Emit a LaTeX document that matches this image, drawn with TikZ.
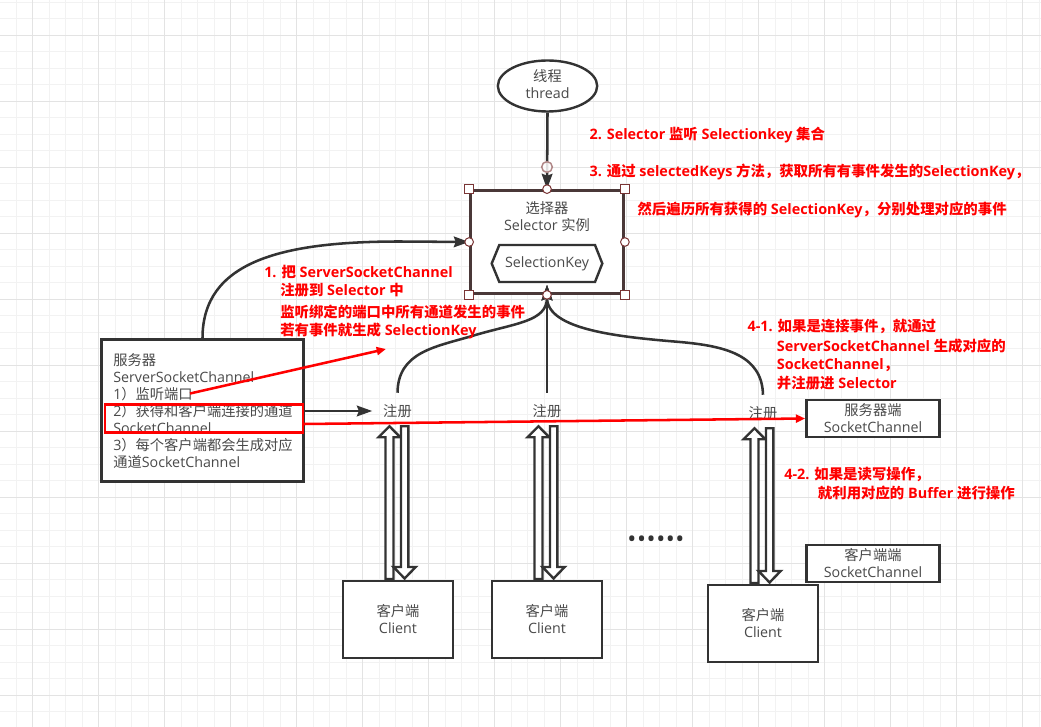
\documentclass[tikz,border=0pt]{standalone}
\usepackage{fontspec}
\setmainfont{Open Sans}
\newfontfamily\cjk{Noto Sans CJK SC}
\usetikzlibrary{arrows.meta,calc,shapes.geometric,shapes.misc}
\newcommand\Z[1]{{\cjk #1}}
\definecolor{ink}{HTML}{333333}
\definecolor{txt}{HTML}{4A4A4A}
\definecolor{redtxt}{HTML}{FF0000}
\definecolor{handle}{HTML}{7A3535}
\definecolor{selbox}{HTML}{4A3838}
\tikzset{
  x=0.75pt,y=-0.75pt,
  lbl/.style={font=\fontsize{10.7pt}{12.75pt}\selectfont,text=txt,inner sep=0pt,align=center},
  redlbl/.style={font=\fontsize{10.8pt}{14pt}\selectfont\bfseries,text=redtxt,inner sep=0pt,anchor=west},
  boxed/.style={draw=ink,line width=1.8pt,fill=white,inner sep=0pt,align=center,font=\fontsize{10.7pt}{12.75pt}\selectfont,text=txt},
  regnode/.style={lbl,minimum width=37.5pt,minimum height=27pt},
  conn/.style={draw=ink,line width=1.9pt,-{Stealth[length=11.5pt,width=8pt,inset=1.5pt]}},
  redarrow/.style={draw=redtxt,line width=1.9pt,-{Triangle[length=7pt,width=6pt]}},
  hollow/.style={draw=ink,line width=1.8pt,fill=white,line join=miter},
  sqh/.style={draw=handle,line width=0.75pt,fill=white,minimum size=6.5pt,inner sep=0pt,rectangle},
  cih/.style={draw=handle,line width=0.75pt,fill=white,minimum size=6.5pt,inner sep=0pt,circle},
}
% hollow up and down arrows between a client box (#1) and its register label (#2)
\newcommand\updownpair[2]{%
  \coordinate (bb) at (#1.north);
  \coordinate (tt) at (bb |- #2.south);
  \draw[hollow] ($(bb)+(-12.5,-1)$) -- ($(bb)+(-4.5,-1)$) -- ($(tt)+(-4.5,8)$) -- ($(tt)+(2.3,8)$)
     -- ($(tt)+(-8.5,-3)$) -- ($(tt)+(-19.5,8)$) -- ($(tt)+(-12.5,8)$) -- cycle;
  \draw[hollow] ($(tt)+(3,-3)$) -- ($(tt)+(10.3,-3)$) -- ($(bb)+(10.3,-13)$) -- ($(bb)+(17.7,-13)$)
     -- ($(bb)+(6.6,-1.5)$) -- ($(bb)+(-4.6,-13)$) -- ($(bb)+(3,-13)$) -- cycle;
}
\begin{document}
\begin{tikzpicture}
\useasboundingbox (0,0) rectangle (1041,727);
\fill[white] (0,0) rectangle (1041,727);
% grid
\foreach \i in {0,...,63}{
  \pgfmathsetmacro\gx{16.2+16.5*\i}
  \draw[draw=black!5,line width=0.75pt] (\gx,0) -- (\gx,727);
}
\foreach \i in {0,...,44}{
  \pgfmathsetmacro\gy{2.3+16.5*\i}
  \draw[draw=black!5,line width=0.75pt] (0,\gy) -- (1041,\gy);
}
\foreach \i in {0,...,15}{
  \pgfmathsetmacro\gx{32.7+66*\i}
  \draw[draw=black!11,line width=0.75pt] (\gx,0) -- (\gx,727);
}
\foreach \i in {0,...,10}{
  \pgfmathsetmacro\gy{35.3+66*\i}
  \draw[draw=black!11,line width=0.75pt] (0,\gy) -- (1041,\gy);
}

% nodes
\node[boxed,ellipse,minimum width=74.5pt,minimum height=38.25pt] (thread) at (547.5,86) {};
\node[lbl] (threadtext) at (547.5,84.5) {\Z{线程}\\thread};
\node[draw=selbox,line width=1.8pt,fill=white,minimum width=115pt,minimum height=77.5pt,inner sep=0pt] (sel) at (547,242) {};
\node[lbl] (seltext) at (547,217) {\Z{选择器}\\Selector \Z{实例}};
\path[draw=ink,line width=1.8pt,fill=white] (499.3,245) -- (595,245) -- (602.3,263.5) -- (595,282) -- (499.3,282) -- (491.7,263.5) -- cycle;
\node[lbl,minimum width=82.5pt,minimum height=27.75pt] (key) at (547,263.5) {SelectionKey};

\node[boxed,minimum width=151.5pt,minimum height=106.5pt] (srv) at (202.5,410.4) {};
\node[lbl,anchor=west,align=left] (srvtext) at (113,411) {\Z{服务器}\\ServerSocketChannel\\1\Z{）监听端口}\\2\Z{）获得和客户端连接的通道}\\SocketChannel\\3\Z{）每个客户端都会生成对应}\\\Z{通道}SocketChannel};

\node[regnode] (reg1) at (397.5,411) {\Z{注册}};
\node[regnode] (reg2) at (547,411) {\Z{注册}};
\node[regnode] (reg3) at (763,413) {\Z{注册}};

\node[boxed,minimum width=82.5pt,minimum height=57.5pt] (cl1) at (398,619.5) {\Z{客户端}\\Client};
\node[boxed,minimum width=82.5pt,minimum height=57.5pt] (cl2) at (547,619.5) {\Z{客户端}\\Client};
\node[boxed,minimum width=82.5pt,minimum height=57.5pt] (cl3) at (763,623.5) {\Z{客户端}\\Client};

\node[boxed,minimum width=100pt,minimum height=27.5pt] (srvch) at (873,418.5) {\Z{服务器端}\\SocketChannel};
\node[boxed,minimum width=100pt,minimum height=27.5pt] (clch) at (873,563.5) {\Z{客户端端}\\SocketChannel};

\node[font=\fontsize{18pt}{18pt}\selectfont,text=ink,inner sep=0pt] (dots) at (656,541.5) {\makebox[7.2pt]{•}\makebox[7.2pt]{•}\makebox[7.2pt]{•}\makebox[7.2pt]{•}\makebox[7.2pt]{•}\makebox[7.2pt]{•}};

% connectors
\draw[conn] (thread.south) -- (sel.north);
\draw[conn] (srv.north) .. controls (202.5,262) and (280,241.5) .. (400,241.5) -- (sel.west);
\draw[conn] (srv.east |- reg1.west) -- (reg1.west);
\draw[conn,shorten >=2pt] (reg1.north) .. controls (398,352) and (435,347) .. (472,336) .. controls (515,323) and (547,322) .. (key.south);
\draw[conn,shorten >=2pt] (reg2.north) -- (key.south);
\draw[conn,shorten >=2pt] (reg3.north) .. controls (762,355) and (725,346) .. (680,342) .. controls (620,337) and (547,330) .. (key.south);

\updownpair{cl1}{reg1}
\updownpair{cl2}{reg2}
\updownpair{cl3}{reg3}

% edit handles
\node[cih,fill=white,fill opacity=0.85,draw=handle!60,line width=1.1pt,minimum size=8pt] (hover) at (547,167) {};
\node[sqh] (hnw) at (sel.north west) {};
\node[sqh] (hne) at (sel.north east) {};
\node[sqh] (hsw) at (sel.south west) {};
\node[sqh] (hse) at (sel.south east) {};
\node[cih] (hn) at (sel.north) {};
\node[cih] (hs) at (sel.south) {};
\node[cih] (hw) at (sel.west) {};
\node[cih] (he) at (sel.east) {};

% red annotations
\node[draw=redtxt,line width=1.7pt,minimum width=149pt,minimum height=21pt,inner sep=0pt] (hl) at (204,418.5) {};
\coordinate (rs1) at (190,393.5);
\coordinate (re1) at (386,349);
\coordinate (rs2) at ($(hl.east)+(-1,5.5)$);
\draw[redarrow] (rs1) -- (re1);
\draw[redarrow] (rs2) -- (srvch.west);

\node[redlbl] (t1a) at (264,271.7) {1. \Z{把} ServerSocketChannel};
\node[redlbl] (t1b) at (280,290) {\Z{注册到} Selector \Z{中}};
\node[redlbl] (t1c) at (280,312.3) {\Z{监听绑定的端口中所有通道发生的事件}};
\node[redlbl] (t1d) at (280,331) {\Z{若有事件就生成} SelectionKey};
\node[redlbl] (t2) at (589.3,135) {2. Selector \Z{监听} Selectionkey \Z{集合}};
\node[redlbl] (t3) at (589.3,172.3) {3. \Z{通过} selectedKeys \Z{方法，获取所有有事件发生的}SelectionKey\Z{，}};
\node[redlbl] (t4) at (637.3,210) {\Z{然后遍历所有获得的} SelectionKey\Z{，分别处理对应的事件}};
\node[redlbl] (t5a) at (747.3,326.7) {4-1. \Z{如果是连接事件，就通过}};
\node[redlbl] (t5b) at (776.7,345.7) {ServerSocketChannel \Z{生成对应的}};
\node[redlbl] (t5c) at (776.7,365) {SocketChannel\Z{，}};
\node[redlbl] (t5d) at (776.7,382.7) {\Z{并注册进} Selector};
\node[redlbl] (t6a) at (784,474) {4-2. \Z{如果是读写操作，}};
\node[redlbl] (t6b) at (817.7,492.7) {\Z{就利用对应的} Buffer \Z{进行操作}};
\end{tikzpicture}
\end{document}
